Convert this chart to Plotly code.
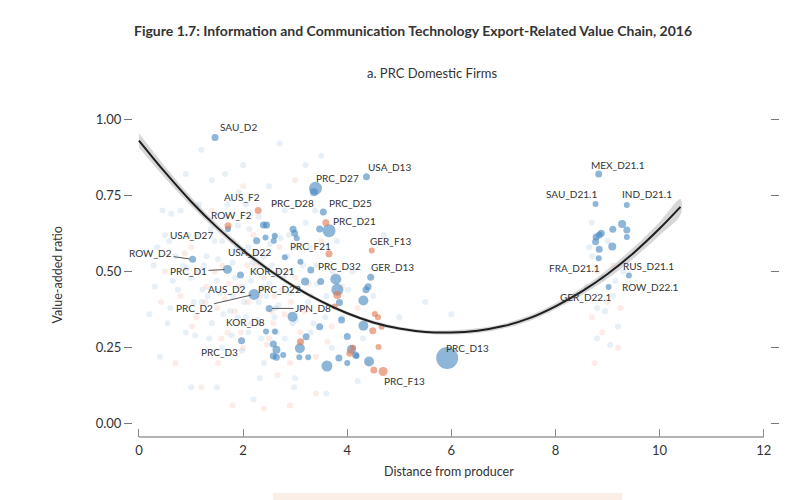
import plotly.graph_objects as go

# ---------------- DATA ----------------
# highlighted domestic (blue) points: distance, value-added ratio, export weight
blue_x = [1.46, 3.39, 3.36, 4.37, 3.54, 3.47, 3.65, 1.71, 2.39, 2.45, 2.43, 2.61, 2.26, 2.59,
          2.96, 2.99, 3.03, 2.80, 1.03, 3.10, 3.30, 3.19, 3.49, 3.78, 3.81, 3.85, 4.45, 4.40,
          4.36, 4.31, 4.31, 3.89, 3.47, 2.95, 2.50, 3.21, 2.61, 2.58, 2.64, 3.09, 2.77, 4.00,
          4.08, 4.16, 3.84, 4.00, 4.42, 3.61, 5.92, 1.70, 1.95, 2.21, 2.44, 1.97, 2.58, 2.64,
          3.08, 3.25, 4.18,
          8.83, 8.77, 9.37, 9.28, 9.37, 9.10, 9.37, 8.88, 8.84, 8.78, 8.77, 8.84, 9.09, 8.83,
          9.41, 9.02]
blue_y = [0.940, 0.773, 0.760, 0.811, 0.695, 0.640, 0.634, 0.640, 0.653, 0.653, 0.612, 0.617,
          0.601, 0.601, 0.639, 0.626, 0.609, 0.547, 0.540, 0.532, 0.505, 0.467, 0.467, 0.475,
          0.440, 0.398, 0.481, 0.450, 0.440, 0.405, 0.322, 0.341, 0.319, 0.352, 0.379, 0.286,
          0.303, 0.262, 0.243, 0.248, 0.226, 0.287, 0.245, 0.226, 0.216, 0.200, 0.205, 0.190,
          0.216, 0.507, 0.489, 0.425, 0.303, 0.273, 0.223, 0.219, 0.219, 0.219, 0.223,
          0.820, 0.722, 0.718, 0.656, 0.636, 0.639, 0.613, 0.626, 0.620, 0.613, 0.598, 0.573,
          0.582, 0.544, 0.487, 0.449]
blue_w = [7, 13, 8, 7, 7, 7, 13, 6, 7, 7, 6, 6, 7, 6,
          7, 7, 6, 6, 7, 6, 7, 8, 7, 11, 12, 7, 7, 7,
          7, 10, 10, 7, 7, 10, 7, 7, 6, 7, 8, 10, 6, 7,
          9, 7, 7, 6, 10, 11, 22, 9, 7, 11, 6, 7, 7, 7,
          6, 6, 6,
          7, 6, 6, 8, 7, 7, 6, 7, 7, 7, 7, 7, 8, 6,
          6, 6]

# highlighted foreign (orange) points
orange_x = [2.29, 1.71, 3.59, 3.65, 4.47, 3.81, 3.76, 4.53, 4.59, 4.66, 4.49, 4.60, 3.10,
            4.05, 4.11, 4.51, 4.69]
orange_y = [0.700, 0.650, 0.660, 0.558, 0.569, 0.423, 0.385, 0.361, 0.350, 0.319, 0.306,
            0.252, 0.270, 0.232, 0.250, 0.177, 0.172]
orange_w = [7, 7, 7, 7, 6, 8, 6, 6, 6, 6, 7, 6, 7, 7, 6, 7, 9]

# background (all other) value-chain links
bg_blue_x = [0.3, 0.5, 0.6, 0.7, 0.8, 0.9, 1.0, 1.1, 1.2, 1.3, 1.4, 1.4, 1.5, 1.6, 1.6, 1.7,
             1.8, 1.8, 1.9, 1.9, 2.0, 2.0, 2.1, 2.1, 2.2, 2.3, 2.3, 2.4, 2.4, 2.5, 2.5, 2.6,
             2.6, 2.7, 2.8, 2.8, 2.9, 3.0, 3.0, 3.1, 3.2, 3.3, 3.4, 3.5, 3.6, 3.7, 3.8, 3.9,
             4.1, 4.3, 4.5, 4.7, 5.0, 1.2, 0.9, 2.7, 3.2, 1.5, 2.2, 0.4,
             1.25, 1.45, 1.55, 1.75, 1.85, 1.95, 2.05, 2.15, 2.25, 2.35, 2.45, 2.55, 2.65,
             2.75, 2.85, 2.95, 3.05, 3.15, 3.25, 3.35, 1.35, 1.05, 0.85, 0.65, 1.15, 1.65,
             2.45, 2.05, 0.55, 0.95, 0.2, 0.45, 1.0, 3.6, 4.2, 5.5, 6.0,
             0.35, 0.75, 1.12, 1.38, 1.62, 1.88, 2.12, 2.38, 2.62, 2.88, 3.12, 3.42, 3.72,
             1.52, 1.78, 2.02, 2.28, 2.52, 2.78, 3.02, 1.22, 0.62, 0.92, 1.68, 2.18, 2.72,
             3.28, 3.58, 1.08, 1.32, 1.98, 2.68, 3.38, 0.28, 0.58, 1.92, 2.32, 2.98, 4.02,
             8.6, 8.7, 8.8, 8.9, 9.0, 9.1, 9.2, 8.8, 9.3, 8.7, 8.95, 9.15, 8.65, 9.05]
bg_blue_y = [0.45, 0.62, 0.38, 0.55, 0.70, 0.30, 0.48, 0.62, 0.40, 0.55, 0.80, 0.33, 0.47,
             0.60, 0.25, 0.72, 0.42, 0.53, 0.35, 0.65, 0.45, 0.85, 0.58, 0.30, 0.50, 0.40,
             0.68, 0.20, 0.55, 0.46, 0.78, 0.35, 0.62, 0.50, 0.28, 0.70, 0.43, 0.58, 0.15,
             0.38, 0.66, 0.30, 0.52, 0.88, 0.42, 0.25, 0.60, 0.35, 0.50, 0.28, 0.42, 0.62,
             0.35, 0.90, 0.82, 0.92, 0.85, 0.12, 0.08, 0.22,
             0.52, 0.60, 0.43, 0.37, 0.48, 0.57, 0.35, 0.47, 0.56, 0.28, 0.42, 0.52, 0.30,
             0.44, 0.55, 0.33, 0.45, 0.52, 0.40, 0.33, 0.28, 0.40, 0.52, 0.47, 0.72, 0.82,
             0.65, 0.72, 0.33, 0.62, 0.36, 0.70, 0.12, 0.10, 0.14, 0.40, 0.36,
             0.58, 0.44, 0.50, 0.64, 0.36, 0.58, 0.64, 0.45, 0.38, 0.62, 0.27, 0.46, 0.50,
             0.54, 0.29, 0.40, 0.34, 0.59, 0.48, 0.34, 0.44, 0.69, 0.51, 0.68, 0.53, 0.61,
             0.58, 0.35, 0.29, 0.42, 0.24, 0.39, 0.70, 0.52, 0.60, 0.76, 0.15, 0.12, 0.44,
             0.45, 0.55, 0.38, 0.48, 0.60, 0.42, 0.32, 0.28, 0.50, 0.66, 0.37, 0.47, 0.58, 0.26]
bg_orange_x = [0.5, 0.8, 1.0, 1.1, 1.3, 1.5, 1.6, 1.7, 1.8, 1.9, 2.0, 2.1, 2.2, 2.3, 2.4,
               2.5, 2.6, 2.7, 2.8, 2.9, 3.0, 3.1, 3.3, 3.4, 3.5, 3.7, 3.9, 4.2, 4.4, 1.2,
               1.8, 2.4, 2.9, 3.4, 0.7, 1.4, 2.0, 2.6, 3.0, 1.65, 2.15, 2.55, 2.35, 1.45,
               1.02, 1.28, 1.58, 1.84, 2.08, 2.32, 2.58, 2.84, 3.18, 3.62, 0.88, 1.72, 2.46,
               2.92, 1.96, 2.24, 0.42, 1.52, 2.66, 3.26,
               8.7, 8.9, 9.0, 9.1, 9.2, 8.8, 8.75, 9.25]
bg_orange_y = [0.50, 0.42, 0.58, 0.35, 0.45, 0.38, 0.52, 0.30, 0.60, 0.45, 0.25, 0.40, 0.62,
               0.33, 0.48, 0.28, 0.42, 0.58, 0.36, 0.20, 0.48, 0.30, 0.42, 0.22, 0.60, 0.32,
               0.45, 0.38, 0.20, 0.12, 0.06, 0.05, 0.06, 0.10, 0.20, 0.70, 0.78, 0.72, 0.80,
               0.41, 0.33, 0.37, 0.44, 0.50,
               0.32, 0.40, 0.28, 0.37, 0.52, 0.42, 0.33, 0.50, 0.37, 0.27, 0.56, 0.46, 0.26,
               0.40, 0.30, 0.52, 0.40, 0.20, 0.16, 0.46,
               0.35, 0.30, 0.40, 0.52, 0.25, 0.50, 0.20, 0.38]

# fitted curve with confidence band
fit_x = [0, 0.5, 1, 1.5, 2, 2.5, 3, 3.5, 4, 4.5, 5, 5.5, 6, 6.5, 7, 7.5, 8, 8.5, 9, 9.5, 10, 10.4]
fit_y = [0.930, 0.826, 0.730, 0.645, 0.570, 0.505, 0.449, 0.402, 0.363, 0.333, 0.313, 0.302,
         0.300, 0.306, 0.321, 0.347, 0.386, 0.434, 0.492, 0.561, 0.641, 0.712]
fit_se = [0.024, 0.019, 0.015, 0.012, 0.010, 0.008, 0.007, 0.006, 0.006, 0.006, 0.006, 0.006,
          0.007, 0.008, 0.008, 0.009, 0.010, 0.012, 0.015, 0.018, 0.022, 0.026]

# labelled links: name and the point it refers to
label_names = ["SAU_D2", "AUS_F2", "ROW_F2", "USA_D27", "ROW_D2", "USA_D22", "PRC_D1", "KOR_D21",
               "AUS_D2", "PRC_D22", "PRC_D2", "JPN_D8", "KOR_D8", "PRC_D3", "PRC_F21", "PRC_D32",
               "GER_F13", "GER_D13", "PRC_D13", "PRC_F13", "USA_D13", "PRC_D27", "PRC_D28",
               "PRC_D25", "PRC_D21", "MEX_D21.1", "SAU_D21.1", "IND_D21.1", "FRA_D21.1",
               "RUS_D21.1", "ROW_D22.1", "GER_D22.1"]
label_x = [1.46, 2.29, 1.71, 1.71, 1.03, 2.26, 1.70, 1.95, 2.21, 2.21, 2.21, 2.50, 2.44, 1.97,
           3.65, 3.78, 4.47, 4.45, 5.92, 4.69, 4.37, 3.39, 3.54, 3.54, 3.65, 8.83, 8.77, 9.37,
           8.83, 9.41, 9.02, 9.02]
label_y = [0.940, 0.700, 0.650, 0.640, 0.540, 0.601, 0.507, 0.489, 0.425, 0.425, 0.425, 0.379,
           0.303, 0.273, 0.558, 0.475, 0.569, 0.481, 0.216, 0.172, 0.811, 0.773, 0.695, 0.695,
           0.634, 0.820, 0.722, 0.718, 0.544, 0.487, 0.449, 0.449]

# ---------------- STYLE / LAYOUT ----------------
BLUE = "rgba(72,137,192,0.88)"
ORANGE = "rgba(224,118,78,0.88)"
TXT = "#333333"
FONT = "Lato"

# label text offsets in pixels (dx right, dy down) and which have leader lines
label_offset = {
    "SAU_D2": (23, -10), "AUS_F2": (-16, -14), "ROW_F2": (3, -11), "USA_D27": (-37, 6),
    "ROW_D2": (-42, -6), "USA_D22": (-7, 11), "PRC_D1": (-39, 2), "KOR_D21": (31, -4),
    "AUS_D2": (-27, -5), "PRC_D22": (25, -5), "PRC_D2": (-60, 14), "JPN_D8": (44, 0),
    "KOR_D8": (-21, -10), "PRC_D3": (-22, 11), "PRC_F21": (-19, -8), "PRC_D32": (4, -13),
    "GER_F13": (19, -10), "GER_D13": (22, -10), "PRC_D13": (20, -10), "PRC_F13": (21, 10),
    "USA_D13": (23, -10), "PRC_D27": (22, -10), "PRC_D28": (-31, -9), "PRC_D25": (27, -9),
    "PRC_D21": (25, -10), "MEX_D21.1": (19, -9), "SAU_D21.1": (-24, -10),
    "IND_D21.1": (20, -11), "FRA_D21.1": (-24, 10), "RUS_D21.1": (20, -10),
    "ROW_D22.1": (42, 0), "GER_D22.1": (-23, 10),
}
leaders = {"ROW_D2", "PRC_D1", "PRC_D2", "JPN_D8"}

fig = go.Figure()

fig.add_trace(go.Scatter(x=bg_blue_x, y=bg_blue_y, mode="markers", hoverinfo="skip",
                         marker=dict(size=6, color="rgba(110,160,205,0.17)")))
fig.add_trace(go.Scatter(x=bg_orange_x, y=bg_orange_y, mode="markers", hoverinfo="skip",
                         marker=dict(size=6, color="rgba(230,140,110,0.17)")))

fig.add_trace(go.Scatter(x=blue_x, y=blue_y, mode="markers",
                         marker=dict(size=blue_w, color=BLUE, line=dict(width=0))))
fig.add_trace(go.Scatter(x=orange_x, y=orange_y, mode="markers",
                         marker=dict(size=orange_w, color=ORANGE, line=dict(width=0))))

hi = [a + b for a, b in zip(fit_y, fit_se)]
lo = [a - b for a, b in zip(fit_y, fit_se)]
fig.add_trace(go.Scatter(x=fit_x + fit_x[::-1], y=hi + lo[::-1], fill="toself",
                         fillcolor="rgba(140,140,140,0.35)", line=dict(width=0, shape="spline"),
                         mode="lines", hoverinfo="skip"))
fig.add_trace(go.Scatter(x=fit_x, y=fit_y, mode="lines",
                         line=dict(color="#1e1e1e", width=2, shape="spline")))

annotations = []
for name, x, y in zip(label_names, label_x, label_y):
    dx, dy = label_offset[name]
    if name in leaders:
        annotations.append(dict(x=x, y=y, xref="x", yref="y", text=name,
                                showarrow=True, ax=dx, ay=dy, arrowhead=0, arrowwidth=0.9,
                                arrowcolor="#444", standoff=3,
                                font=dict(family=FONT, size=10, color=TXT)))
    else:
        annotations.append(dict(x=x, y=y, xref="x", yref="y", text=name, showarrow=False,
                                xshift=dx, yshift=-dy,
                                font=dict(family=FONT, size=10, color=TXT)))

# titles
annotations += [
    dict(text="<b>Figure 1.7: Information and Communication Technology Export-Related Value Chain, 2016</b>",
         x=0.44, y=1.233, xref="paper", yref="paper", showarrow=False,
         xanchor="center", yanchor="middle",
         font=dict(family=FONT, size=14, color=TXT)),
    dict(text="a. PRC Domestic Firms", x=0.469, y=1.103, xref="paper", yref="paper",
         showarrow=False, xanchor="center", yanchor="middle",
         font=dict(family=FONT, size=13, color=TXT)),
    dict(text="Distance from producer", x=0.496, y=-0.106, xref="paper", yref="paper",
         showarrow=False, xanchor="center", yanchor="middle",
         font=dict(family=FONT, size=12.5, color=TXT)),
    dict(text="Value-added ratio", x=-0.119, y=0.49, xref="paper", yref="paper",
         showarrow=False, textangle=-90, xanchor="center", yanchor="middle",
         font=dict(family=FONT, size=12.5, color=TXT)),
]

shapes = [
    dict(type="line", xref="x", yref="paper", x0=0, x1=12, y0=0, y1=0,
         line=dict(color="#9a9a9a", width=1.6)),
    dict(type="rect", xref="paper", yref="paper", x0=0.22, x1=0.768, y0=-0.17, y1=-0.25,
         fillcolor="#fbeee6", line=dict(width=0), layer="below"),
]

fig.update_layout(
    width=800, height=500,
    margin=dict(l=133, r=30, t=107, b=63),
    paper_bgcolor="white", plot_bgcolor="white",
    showlegend=False,
    annotations=annotations, shapes=shapes,
    font=dict(family=FONT, color=TXT),
    xaxis=dict(range=[-0.115, 12.12], tickvals=[0, 2, 4, 6, 8, 10, 12],
               ticks="inside", ticklen=8, tickcolor="#8a8a8a", tickwidth=1.2,
               showgrid=False, zeroline=False, showline=False,
               tickfont=dict(family=FONT, size=13, color=TXT), ticklabelstandoff=4),
    yaxis=dict(range=[-0.043, 1.04], tickvals=[0, 0.25, 0.5, 0.75, 1.0],
               ticktext=["0.00", "0.25", "0.50", "0.75", "1.00"],
               ticks="outside", ticklen=8, tickcolor="#777", tickwidth=1, mirror="ticks",
               showgrid=False, zeroline=False, showline=False,
               tickfont=dict(family=FONT, size=13, color=TXT)),
)

fig.write_html("out.html")
